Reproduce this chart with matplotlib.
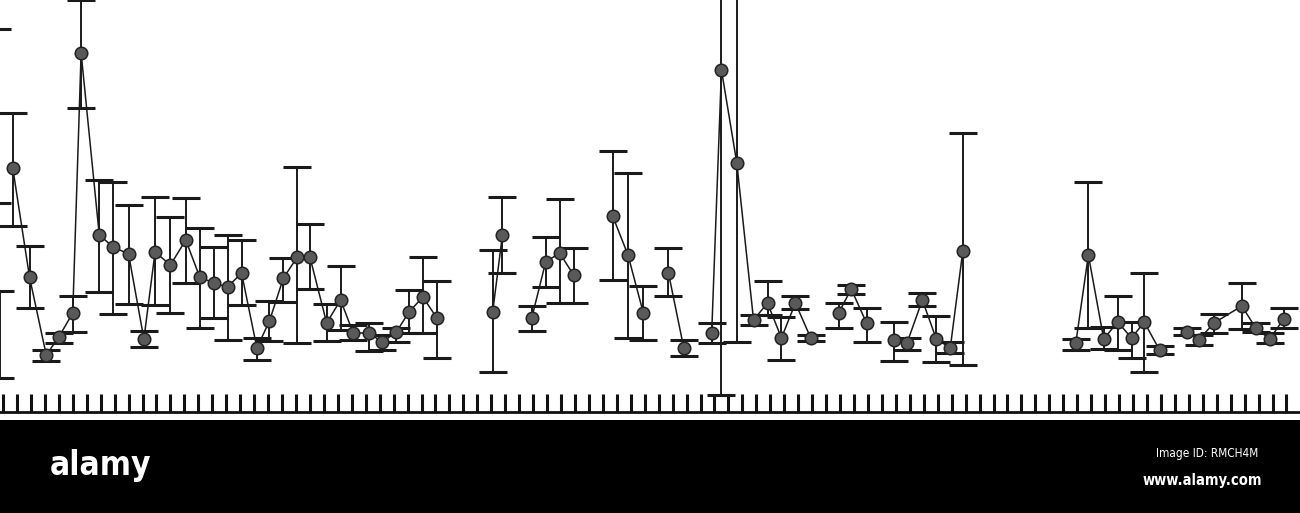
import numpy as np
import matplotlib
matplotlib.use("Agg")
import matplotlib.pyplot as plt
from matplotlib.patches import Rectangle

# x in tick units, means and cap ends in plot units
x_pos = [0.7, 1.9, 3.1, 4.0, 5.0, 5.6, 6.9, 7.9, 9.0, 10.1, 10.9, 12.0, 13.1, 14.1, 15.1,
         16.1, 17.1, 18.2, 19.1, 20.1, 21.1, 22.0, 23.2, 24.2, 25.1, 26.2, 27.2, 28.2, 29.1,
         30.1, 31.1,
         35.1, 35.8,
         37.9, 38.9, 39.9, 40.9,
         43.7, 44.8, 45.9,
         47.7, 48.8,
         50.8, 51.5, 52.6, 53.8, 54.8, 55.8, 56.8, 57.9,
         59.9, 60.8, 61.9,
         63.9, 64.8, 65.9, 66.9, 67.9, 68.8,
         76.9, 77.8, 78.9, 79.9, 80.9, 81.8, 82.9,
         84.9, 85.7, 86.8, 88.8, 89.8, 90.8, 91.8]
means = [61.0, 33.75, 14.25, 18.75, 24.75, 89.75, 44.25, 41.25, 39.5, 18.25, 40.0, 36.75,
         43.0, 33.75, 32.25, 31.25, 34.75, 16.0, 22.75, 33.5, 38.75, 38.75, 22.25, 28.0,
         19.75, 19.75, 17.5, 20.0, 25.0, 28.75, 23.5,
         25.0, 44.25,
         23.5, 37.5, 39.75, 34.25,
         49.0, 39.25, 24.75,
         34.75, 16.0,
         19.75, 85.5, 62.25, 23.0, 27.25, 18.5, 27.25, 18.5,
         24.75, 30.75, 22.25,
         18.0, 17.25, 28.0, 18.25, 16.0, 40.25,
         17.25, 39.25, 18.25, 22.5, 18.5, 22.5, 15.5,
         20.0, 18.0, 22.25, 26.5, 21.0, 18.25, 23.25]
upper = [74.75, 41.5, 15.5, 19.75, 29.0, 103.0, 58.0, 57.5, 51.75, 20.25, 53.75, 48.75,
         53.5, 46.0, 41.25, 44.25, 43.0, 18.5, 27.75, 38.5, 61.25, 47.0, 27.0, 36.5,
         21.75, 22.25, 19.25, 21.0, 30.5, 38.75, 32.75,
         40.5, 53.75,
         26.5, 43.75, 53.25, 41.0,
         65.25, 59.75, 31.5,
         41.0, 18.0,
         22.25, 153.0, 128.0, 24.25, 32.75, 23.75, 29.0, 19.25,
         27.25, 31.75, 26.0,
         22.5, 18.5, 29.75, 24.0, 17.5, 69.75,
         18.25, 57.5, 21.25, 29.0, 22.5, 34.75, 16.5,
         21.0, 19.25, 24.5, 32.25, 22.25, 19.75, 26.0]
lower = [46.5, 26.0, 12.75, 17.25, 20.0, 76.0, 30.0, 24.5, 27.0, 16.25, 26.75, 24.75,
         32.25, 21.0, 23.5, 18.0, 26.75, 13.0, 17.75, 27.5, 17.25, 30.75, 17.75, 20.5,
         18.0, 15.25, 15.5, 17.5, 19.75, 19.75, 13.5,
         10.0, 34.75,
         20.25, 31.25, 27.25, 27.25,
         33.0, 18.5, 18.0,
         29.0, 14.0,
         17.25, 4.25, 17.5, 21.75, 24.25, 13.0, 25.75, 17.75,
         21.0, 29.5, 17.5,
         12.75, 15.5, 26.5, 12.5, 14.75, 11.75,
         15.5, 21.0, 15.75, 15.5, 13.5, 10.0, 14.5,
         19.25, 16.75, 19.75, 20.75, 20.0, 17.25, 21.0]
# runs of points joined by a line
group = [1] * 31 + [2] * 2 + [3] * 4 + [4] * 3 + [5] * 2 + [6] * 8 + [7] * 3 + [8] * 6 + [9] * 7 + [10] * 7

# bars cut off at the left edge
edge_x = [-0.45, -0.25]
edge_hi = [95.75, 30.25]
edge_lo = [52.25, 8.5]

n_ticks = 93

x_pos = np.array(x_pos)
means = np.array(means)
upper = np.array(upper)
lower = np.array(lower)
group = np.array(group)

fig = plt.figure(figsize=(13, 5.13), dpi=100)
fig.patch.set_facecolor("white")
ax = fig.add_axes([0, (513 - 412) / 513, 1, 412 / 513])

ax.errorbar(x_pos, means, yerr=[means - lower, upper - means], fmt="none",
            ecolor="#1a1a1a", elinewidth=1.4, capsize=10, capthick=2.2, zorder=2)
for g in np.unique(group):
    m = group == g
    ax.plot(x_pos[m], means[m], color="#1a1a1a", lw=1.1, zorder=3)
ax.plot(x_pos, means, "o", ms=9, mfc="#595959", mec="#222222", mew=1.1, zorder=4)

edge_x = np.array(edge_x)
edge_mid = (np.array(edge_hi) + np.array(edge_lo)) / 2
ax.errorbar(edge_x, edge_mid, yerr=[edge_mid - np.array(edge_lo), np.array(edge_hi) - edge_mid],
            fmt="none", ecolor="#1a1a1a", elinewidth=1.4, capsize=10, capthick=2.2)

ax.set_xlim(-0.215, 92.97)
ax.set_ylim(0, 103)
ax.set_xticks(np.arange(n_ticks))
ax.set_xticklabels([])
ax.set_yticks([])
ax.tick_params(axis="x", direction="in", length=13, width=2.2, color="#111111")
for s in ["top", "left", "right"]:
    ax.spines[s].set_visible(False)
ax.spines["bottom"].set_linewidth(2.0)
ax.spines["bottom"].set_color("#111111")

# black banner along the bottom of the scan
fig.patches.append(Rectangle((0, 0), 1, 93 / 513, transform=fig.transFigure,
                             facecolor="black", edgecolor="none", zorder=0))
fig.text(101 / 1300, 1 - 466 / 513, "alamy", color="white", fontsize=24, fontweight="bold",
         fontstretch="condensed", family="DejaVu Sans", ha="center", va="center")
fig.text(1207 / 1300, 1 - 453 / 513, "Image ID: RMCH4M", color="white", fontsize=8.5,
         fontstretch="condensed", family="DejaVu Sans", ha="center", va="center")
fig.text(1202 / 1300, 1 - 480 / 513, "www.alamy.com", color="white", fontsize=10.5,
         fontweight="bold", fontstretch="condensed", family="DejaVu Sans",
         ha="center", va="center")

plt.savefig("out.png", dpi=100)
